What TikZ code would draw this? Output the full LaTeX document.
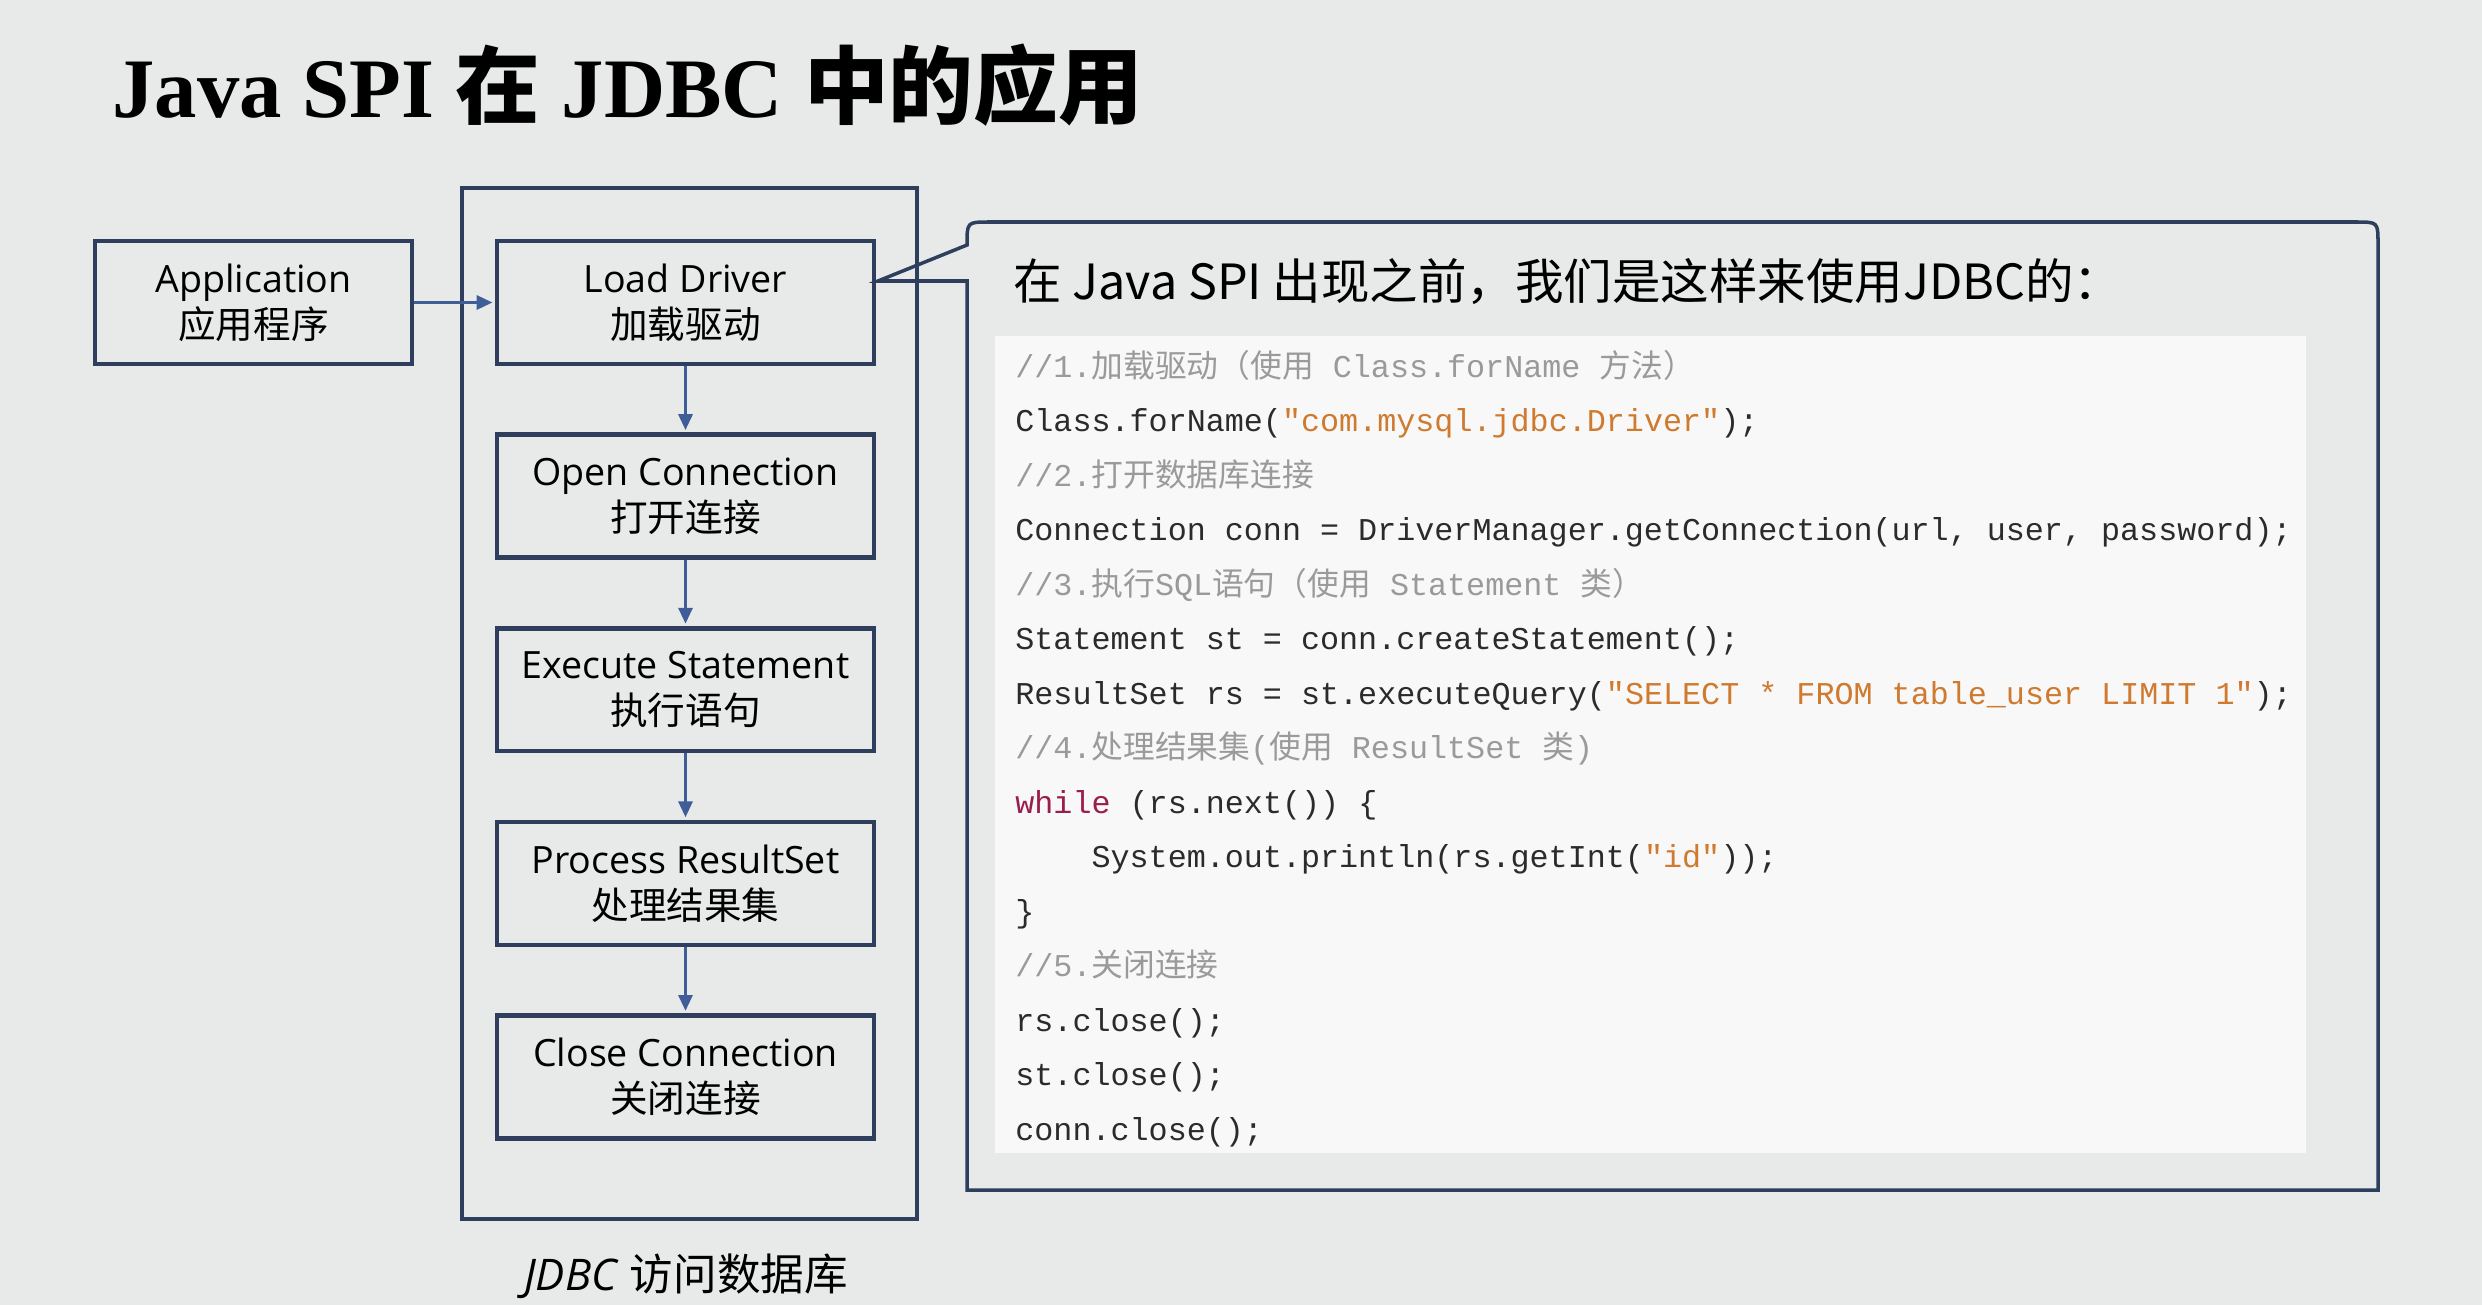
\documentclass[tikz,border=0pt]{standalone}
\usepackage{fontspec}
\setmainfont{Open Sans}
\setmonofont{Liberation Mono}
\newfontfamily\cjk{Noto Sans CJK SC}
\newfontfamily\titleserif{Liberation Serif}
\usepackage{xcolor}
\usetikzlibrary{positioning,arrows.meta}
\definecolor{slidebg}{HTML}{E8EAEA}
\definecolor{boxline}{HTML}{2E3E5C}
\definecolor{flowblue}{HTML}{3F5E98}
\definecolor{codebg}{HTML}{F8F8F8}
\definecolor{codetext}{HTML}{2B2B2B}
\definecolor{codecmt}{HTML}{9A9A9A}
\definecolor{codestr}{HTML}{CF7A2E}
\definecolor{codekw}{HTML}{9B1D4D}
\tikzset{
  stepbox/.style ={rectangle, draw=boxline, line width=2.6pt, inner sep=0pt,
                   minimum width=7.54cm, minimum height=2.46cm, align=center,
                   font=\fontsize{21.4}{26.2}\selectfont},
  flow/.style    ={draw=flowblue, line width=1.6pt, shorten >=1.3pt,
                   -{Triangle[length=9pt,width=8pt]}},
  frame/.style   ={draw=boxline, line width=1.8pt},
  callout/.style ={draw=boxline, line width=2pt},
  % one line of the listing, placed by its baseline
  codeline/.style={anchor=base west, inner sep=0pt, text=codetext,
                   font=\ttfamily\fontsize{18.07}{20}\selectfont},
}
\newcommand{\zh}[1]{{\cjk #1}}
\newcommand{\cmt}[1]{\textcolor{codecmt}{#1}}
\newcommand{\str}[1]{\textcolor{codestr}{#1}}
% listing row #2 (from 1), x offset #3 in pixels
\newcommand{\codeln}[4]{%
  \node[codeline] (#1) at ({1015+#3},{377+54.5*(#2-1)}) {#4};}
\def\steplist{load/Load Driver/加载驱动, open/Open Connection/打开连接,
  exec/Execute Statement/执行语句, proc/Process ResultSet/处理结果集,
  close/Close Connection/关闭连接}
\def\stepedges{load/open, open/exec, exec/proc, proc/close}

\begin{document}
\begin{tikzpicture}[x=0.02cm,y=-0.02cm]
\fill[slidebg] (0,0) rectangle (2482,1305);
\useasboundingbox (0,0) rectangle (2482,1305);

\node[anchor=base west, inner sep=0pt, font=\bfseries\fontsize{48.2}{50}\selectfont]
  (title) at (112,117)
  {\titleserif Java SPI \zh{在} JDBC \zh{中的应用}};

% left: JDBC steps
\draw[frame] (462,188) rectangle (917,1219);
\node[stepbox, minimum width=6.34cm] (app) at (253.5,302.5) {Application\\\zh{应用程序}};
\foreach \n/\en/\cn [count=\i from 0] in \steplist
  {\node[stepbox] (\n) at (685.5,{302.5+193.6*\i}) {\en\\\zh{\cn}};}
\draw[flow] (app) -- (load);
\foreach \a/\b in \stepedges {\draw[flow] (\a) -- (\b);}
\node[font=\fontsize{24.8}{28}\selectfont] (caption) at (686,1276)
  {\textit{JDBC} \zh{访问数据库}};

% right: callout with listing
\draw[callout] (967,281) -- (878,281) -- (967,245)
  .. controls (967,222) .. (989,222) -- (2356,222)
  .. controls (2378,222) .. (2378,244) -- (2378,1190) -- (967,1190) -- cycle;
\node[anchor=base west, inner sep=0pt, font=\cjk\fontsize{27.6}{30}\selectfont]
  (head) at (1013,299) {在 Java SPI 出现之前，我们是这样来使用JDBC的：};
\fill[codebg] (995,336) rectangle (2306,1153);
\codeln{c1}{1}{0}{\cmt{//1.\zh{加载驱动（使用} Class.forName \zh{方法）}}}
\codeln{c2}{2}{0}{Class.forName(\str{"com.mysql.jdbc.Driver"});}
\codeln{c3}{3}{0}{\cmt{//2.\zh{打开数据库连接}}}
\codeln{c4}{4}{0}{Connection conn = DriverManager.getConnection(url, user, password);}
\codeln{c5}{5}{0}{\cmt{//3.\zh{执行}SQL\zh{语句（使用} Statement \zh{类）}}}
\codeln{c6}{6}{0}{Statement st = conn.createStatement();}
\codeln{c7}{7}{0}{ResultSet rs = st.executeQuery(\str{"SELECT * FROM table\_user LIMIT 1"});}
\codeln{c8}{8}{0}{\cmt{//4.\zh{处理结果集}(\zh{使用} ResultSet \zh{类})}}
\codeln{c9}{9}{0}{\textcolor{codekw}{while} (rs.next()) \{}
\codeln{c10}{10}{76.2}{System.out.println(rs.getInt(\str{"id"}));}
\codeln{c11}{11}{0}{\}}
\codeln{c12}{12}{0}{\cmt{//5.\zh{关闭连接}}}
\codeln{c13}{13}{0}{rs.close();}
\codeln{c14}{14}{0}{st.close();}
\codeln{c15}{15}{0}{conn.close();}
\end{tikzpicture}
\end{document}
